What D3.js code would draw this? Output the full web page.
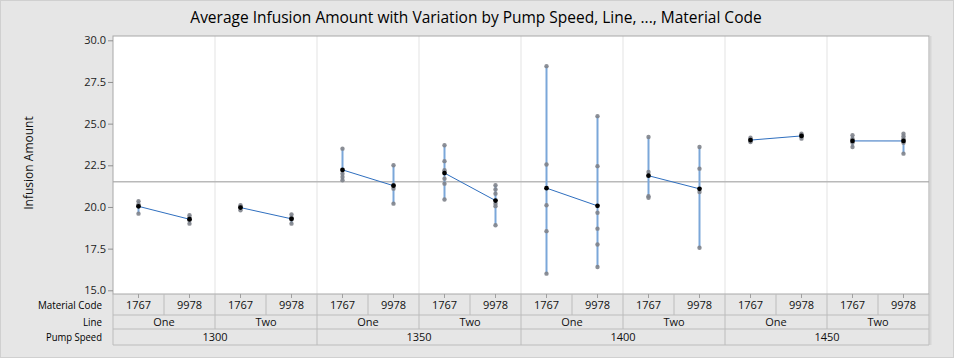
<!DOCTYPE html>
<html><head><meta charset="utf-8">
<script src="https://cdn.jsdelivr.net/npm/d3@7"></script>
<style>
html,body{margin:0;padding:0;background:#e6e6e6;}
svg{display:block;font-family:"Open Sans","Noto Sans",sans-serif;}
</style></head>
<body>
<svg id="chart" width="954" height="358"></svg>
<script>
// ---- data ----
const pumpSpeeds = ["1300", "1350", "1400", "1450"];
const lines = ["One", "Two"];
const materialCodes = ["1767", "9978"];
const yTicks = [15.0, 17.5, 20.0, 22.5, 25.0, 27.5, 30.0];
const overallMean = 21.52;
// observations per cell, ordered speed > line > material
const obs1300One1767 = [20.35, 20.15, 20.05, 19.6];
const obs1300One9978 = [19.5, 19.35, 19.2, 19.0];
const obs1300Two1767 = [20.1, 20.0, 19.95, 19.8];
const obs1300Two9978 = [19.55, 19.35, 19.25, 19.0];
const obs1350One1767 = [23.5, 22.0, 21.8, 21.6];
const obs1350One9978 = [22.5, 21.3, 21.1, 20.2];
const obs1350Two1767 = [23.7, 22.75, 22.2, 21.7, 21.4, 20.45];
const obs1350Two9978 = [21.3, 21.05, 20.8, 20.2, 20.05, 18.9];
const obs1400One1767 = [28.45, 22.55, 20.1, 18.55, 16.0];
const obs1400One9978 = [25.45, 22.45, 19.65, 18.7, 17.75, 16.4];
const obs1400Two1767 = [24.2, 22.1, 20.65, 20.55];
const obs1400Two9978 = [23.6, 22.3, 20.9, 17.55];
const obs1450One1767 = [24.15, 24.05, 23.95, 23.9];
const obs1450One9978 = [24.4, 24.3, 24.25, 24.1];
const obs1450Two1767 = [24.3, 24.1, 23.85, 23.6];
const obs1450Two9978 = [24.4, 24.25, 24.1, 23.85, 23.2];

const obsList = [
  obs1300One1767, obs1300One9978, obs1300Two1767, obs1300Two9978,
  obs1350One1767, obs1350One9978, obs1350Two1767, obs1350Two9978,
  obs1400One1767, obs1400One9978, obs1400Two1767, obs1400Two9978,
  obs1450One1767, obs1450One9978, obs1450Two1767, obs1450Two9978
];

// ---- build cells ----
const cells = [];
let k = 0;
pumpSpeeds.forEach(s => lines.forEach(l => materialCodes.forEach(m => {
  const v = obsList[k++];
  cells.push({id: s + "|" + l + "|" + m, speed: s, line: l, mat: m, obs: v,
    mean: d3.mean(v), min: d3.min(v), max: d3.max(v)});
})));
const groups = d3.groups(cells, d => d.speed + "|" + d.line);

// ---- layout ----
const svg = d3.select("#chart");
const W = 954, H = 358;
const L = 113, R = 929;
const x = d3.scaleBand().domain(cells.map(d => d.id)).range([L, R]).padding(0);
const y = d3.scaleLinear().domain([15, 30]).range([290.3, 40.3]);
const plotTop = 36, plotBot = 294;
const rowMat = [294, 315], rowLine = [315, 329], rowSpeed = [329, 345];

svg.append("rect").attr("x", 0.5).attr("y", 0.5).attr("width", W - 1).attr("height", H - 1)
  .attr("fill", "#e6e6e6").attr("stroke", "#d0d0d0");

// title
svg.append("text").attr("x", 476).attr("y", 23).attr("text-anchor", "middle")
  .attr("font-size", 15.5).attr("fill", "#000")
  .text("Average Infusion Amount with Variation by Pump Speed, Line, ..., Material Code");

// plot area
svg.append("rect").attr("x", L).attr("y", plotTop).attr("width", R - L).attr("height", plotBot - plotTop)
  .attr("fill", "#fff");

// vertical gridlines at line-group boundaries
groups.forEach((g, i) => {
  if (i === 0) return;
  const gx = x(g[1][0].id);
  svg.append("line").attr("x1", gx).attr("x2", gx).attr("y1", plotTop).attr("y2", plotBot)
    .attr("stroke", "#e3e3e3").attr("stroke-width", 1);
});

// reference line
svg.append("line").attr("x1", L).attr("x2", R).attr("y1", y(overallMean)).attr("y2", y(overallMean))
  .attr("stroke", "#b9b9b9").attr("stroke-width", 1.5);

svg.append("rect").attr("x", L).attr("y", plotTop).attr("width", R - L).attr("height", plotBot - plotTop)
  .attr("fill", "none").attr("stroke", "#a8a8a8").attr("stroke-width", 1);
svg.append("line").attr("x1", R + 1.5).attr("x2", R + 1.5).attr("y1", plotTop).attr("y2", rowSpeed[1])
  .attr("stroke", "#d6d6d6").attr("stroke-width", 2);

// y axis
const yAxis = d3.axisLeft(y).tickValues(yTicks).tickFormat(d3.format(".1f")).tickSize(5).tickPadding(2);
const ga = svg.append("g").attr("transform", `translate(${L},0)`).call(yAxis);
ga.select(".domain").remove();
ga.selectAll(".tick line").attr("stroke", "#909090");
ga.selectAll(".tick text").attr("font-size", 11).attr("fill", "#222")
  .attr("font-family", "'Open Sans','Noto Sans',sans-serif");

svg.append("text").attr("transform", `translate(33,${(plotTop + plotBot) / 2 - 2}) rotate(-90)`)
  .attr("text-anchor", "middle").attr("font-size", 12).attr("fill", "#111").text("Infusion Amount");

// range lines
const cx = d => x(d.id) + x.bandwidth() / 2;
svg.append("g").selectAll("line").data(cells).join("line")
  .attr("x1", cx).attr("x2", cx).attr("y1", d => y(d.min)).attr("y2", d => y(d.max))
  .attr("stroke", "#7ba7d9").attr("stroke-width", 2);

// individual points
svg.append("g").selectAll("circle")
  .data(cells.flatMap(c => c.obs.map(v => ({c, v}))))
  .join("circle").attr("cx", d => cx(d.c)).attr("cy", d => y(d.v)).attr("r", 2.2)
  .attr("fill", "#80838b").attr("fill-opacity", 0.9);

// mean connecting lines
groups.forEach(g => {
  svg.append("path").datum(g[1])
    .attr("d", d3.line().x(cx).y(d => y(d.mean)))
    .attr("fill", "none").attr("stroke", "#2f6fbf").attr("stroke-width", 1);
});
svg.append("g").selectAll("circle").data(cells).join("circle")
  .attr("cx", cx).attr("cy", d => y(d.mean)).attr("r", 2.4).attr("fill", "#000");

// ---- bottom table ----
const tbl = svg.append("g");
const gridStroke = "#bcbcbc";
[rowMat, rowLine, rowSpeed].forEach(r => {
  tbl.append("line").attr("x1", L).attr("x2", R).attr("y1", r[1]).attr("y2", r[1])
    .attr("stroke", gridStroke);
});
tbl.append("line").attr("x1", L).attr("x2", L).attr("y1", plotBot).attr("y2", rowSpeed[1]).attr("stroke", gridStroke);
tbl.append("line").attr("x1", R).attr("x2", R).attr("y1", plotBot).attr("y2", rowSpeed[1]).attr("stroke", gridStroke);

// material row
cells.forEach((c, i) => {
  if (i > 0) tbl.append("line").attr("x1", x(c.id)).attr("x2", x(c.id)).attr("y1", rowMat[0]).attr("y2", rowMat[1]).attr("stroke", gridStroke);
  tbl.append("line").attr("x1", cx(c)).attr("x2", cx(c)).attr("y1", rowMat[0]).attr("y2", rowMat[0] + 4).attr("stroke", "#a0a0a0");
  tbl.append("text").attr("x", cx(c)).attr("y", (rowMat[0] + rowMat[1]) / 2 + 4).attr("text-anchor", "middle")
    .attr("font-size", 11).attr("fill", "#111").text(c.mat);
});
// line row
groups.forEach((g, i) => {
  const x0 = x(g[1][0].id), x1 = x(g[1][g[1].length - 1].id) + x.bandwidth();
  if (i > 0) tbl.append("line").attr("x1", x0).attr("x2", x0).attr("y1", rowLine[0]).attr("y2", rowLine[1]).attr("stroke", gridStroke);
  tbl.append("text").attr("x", (x0 + x1) / 2).attr("y", (rowLine[0] + rowLine[1]) / 2 + 4).attr("text-anchor", "middle")
    .attr("font-size", 11).attr("fill", "#111").text(g[1][0].line);
});
// speed row
d3.groups(cells, d => d.speed).forEach((g, i) => {
  const x0 = x(g[1][0].id), x1 = x(g[1][g[1].length - 1].id) + x.bandwidth();
  if (i > 0) tbl.append("line").attr("x1", x0).attr("x2", x0).attr("y1", rowSpeed[0]).attr("y2", rowSpeed[1]).attr("stroke", gridStroke);
  tbl.append("text").attr("x", (x0 + x1) / 2).attr("y", (rowSpeed[0] + rowSpeed[1]) / 2 + 4).attr("text-anchor", "middle")
    .attr("font-size", 11).attr("fill", "#111").text(g[0]);
});
// row labels
[["Material Code", rowMat, 64], ["Line", rowLine, 19], ["Pump Speed", rowSpeed, 56]].forEach(([t, r, len]) => {
  tbl.append("text").attr("x", 102).attr("y", (r[0] + r[1]) / 2 + 4).attr("text-anchor", "end")
    .attr("font-size", 11).attr("textLength", len).attr("lengthAdjust", "spacingAndGlyphs")
    .attr("fill", "#000").text(t);
});
</script>
</body></html>
